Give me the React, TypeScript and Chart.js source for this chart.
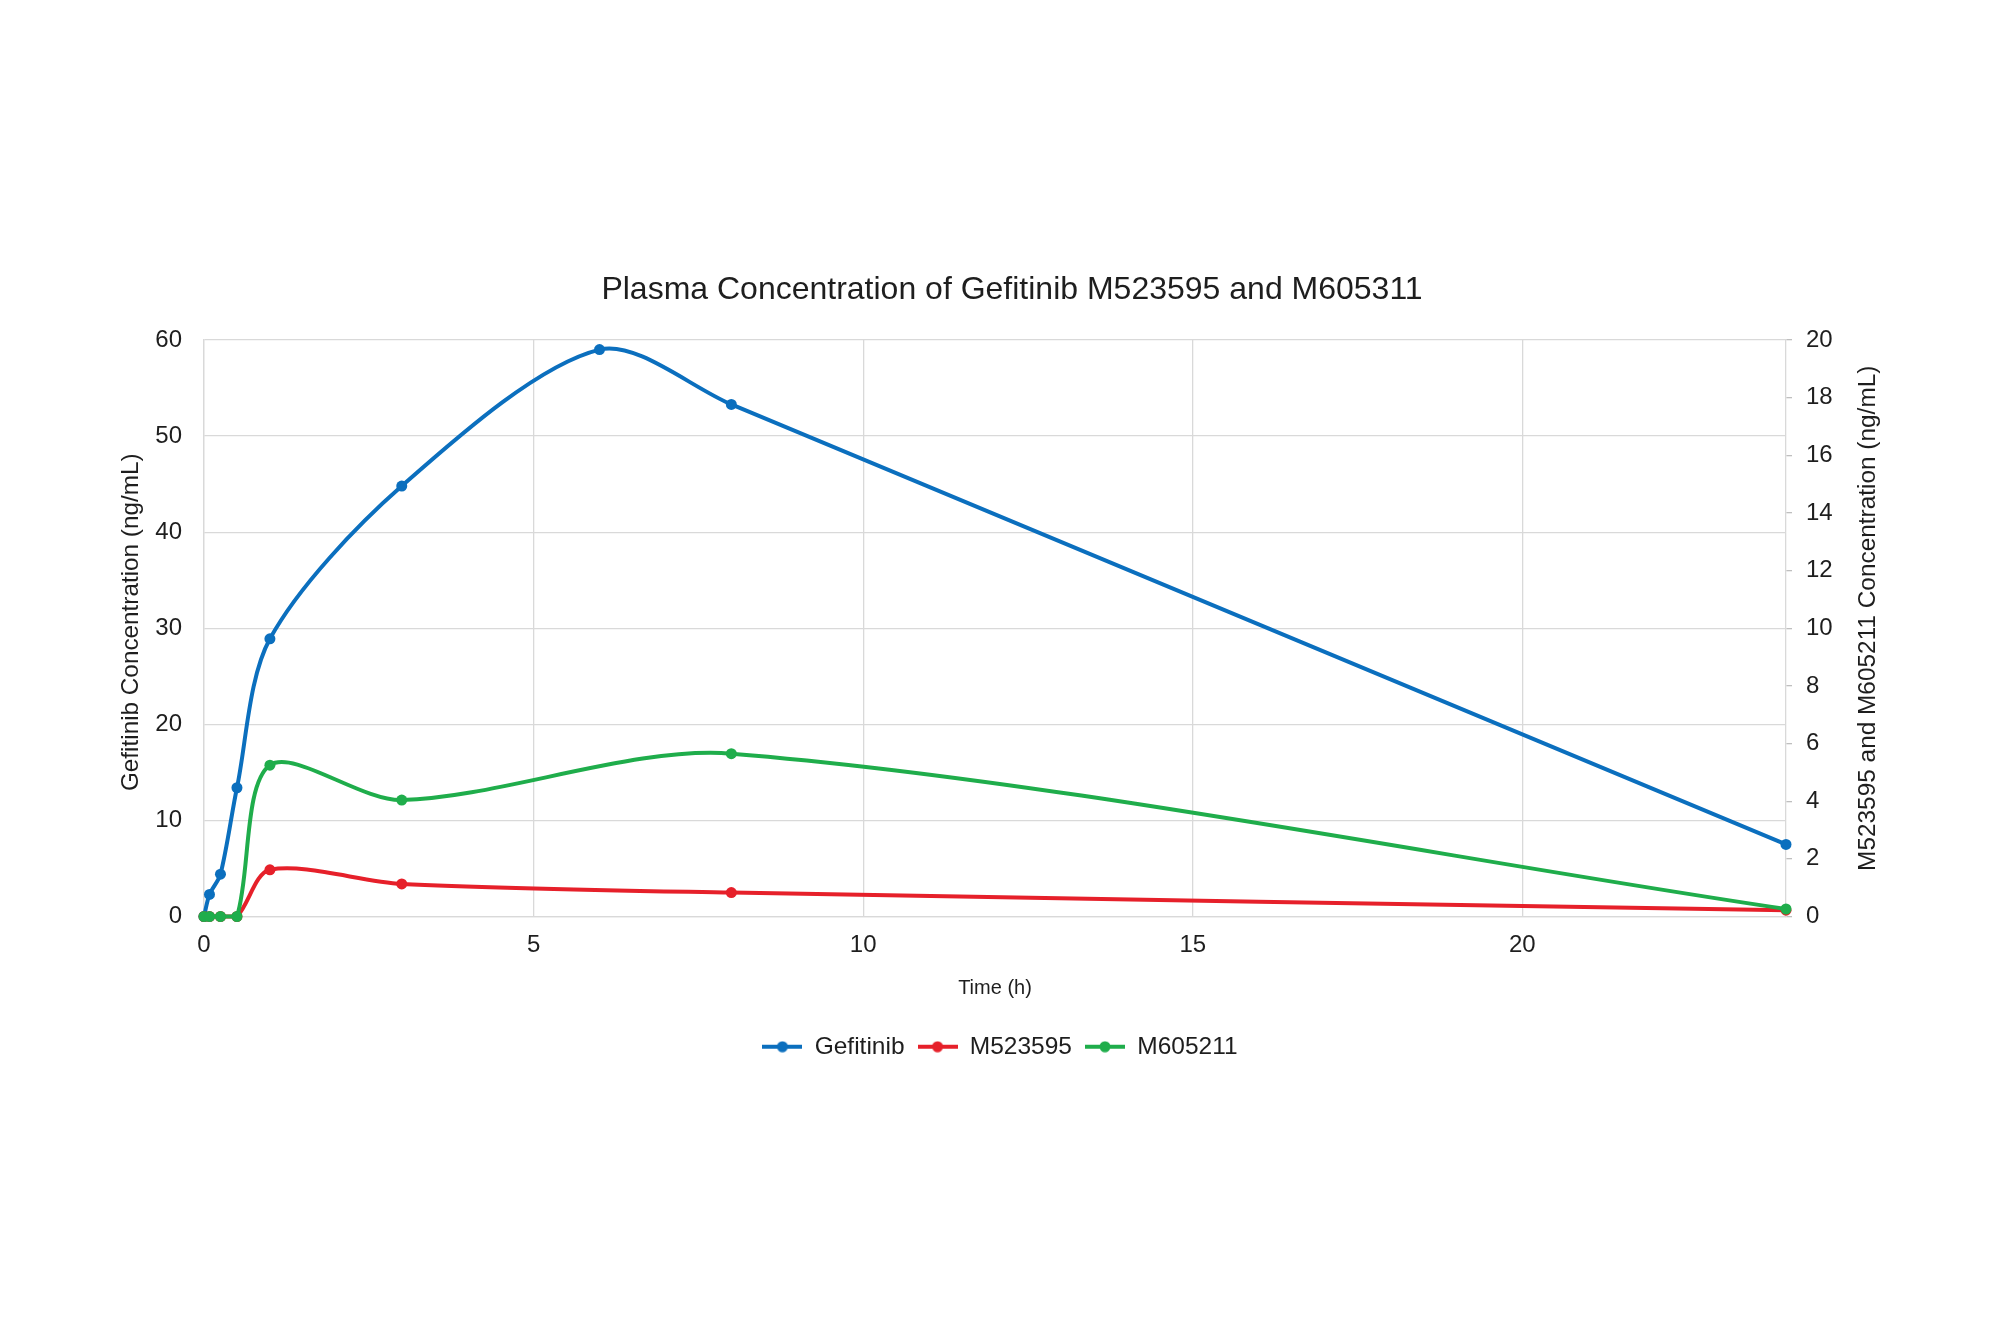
import React, { useEffect, useRef } from "react";
import { Chart, registerables } from "chart.js";

Chart.register(...registerables);

const FONT = '"Liberation Sans", Arial, sans-serif';
const TEXT = "#1e1e1e";
const GRID = "#d9d9d9";

const chartTitle = "Plasma Concentration of Gefitinib M523595 and M605311";
const xTitle = "Time (h)";
const leftTitle = "Gefitinib Concentration (ng/mL)";
const rightTitle = "M523595 and M605211 Concentration (ng/mL)";

const seriesNames = ["Gefitinib", "M523595", "M605211"];
const seriesColors = ["#0b6fbe", "#e6202a", "#1fad4b"];

const timeGefitinib = [0, 0.083, 0.25, 0.5, 1, 3, 6, 8, 24];
const gefitinib = [0, 2.3, 4.4, 13.4, 28.9, 44.8, 59.0, 53.3, 7.5];

const timeMetabolites = [0, 0.083, 0.25, 0.5, 1, 3, 8, 24];
const m523595 = [0, 0, 0, 0, 1.62, 1.13, 0.83, 0.22];
const m605211 = [0, 0, 0, 0, 5.25, 4.04, 5.65, 0.26];

const xMin = 0;
const xMax = 24;
const xStep = 5;
const leftMax = 60;
const leftStep = 10;
const rightMax = 20;
const rightStep = 2;

function toPoints(xs: number[], ys: number[]) {
  return xs.map((x, i) => ({ x, y: ys[i] }));
}

function makeMarker(color: string): HTMLCanvasElement {
  const c = document.createElement("canvas");
  c.width = 40;
  c.height = 12;
  const ctx = c.getContext("2d")!;
  ctx.strokeStyle = color;
  ctx.lineWidth = 4;
  ctx.beginPath();
  ctx.moveTo(0, 6);
  ctx.lineTo(40, 6);
  ctx.stroke();
  ctx.fillStyle = color;
  ctx.beginPath();
  ctx.arc(20, 6, 5.5, 0, Math.PI * 2);
  ctx.fill();
  return c;
}

function drawText(ctx: any, text: string, size: number, x: number, y: number, rot: number) {
  ctx.save();
  ctx.font = `${size}px ${FONT}`;
  ctx.fillStyle = TEXT;
  ctx.textAlign = "center";
  ctx.textBaseline = "middle";
  ctx.translate(x, y);
  ctx.rotate(rot);
  ctx.fillText(text, 0, 0);
  ctx.restore();
}

const titlesPlugin = {
  id: "titles",
  afterDraw(chart: any) {
    const { ctx, chartArea } = chart;
    const midY = (chartArea.top + chartArea.bottom) / 2;
    drawText(ctx, chartTitle, 32, 1012, 290.5, 0);
    drawText(ctx, leftTitle, 24.3, 131, midY - 6, -Math.PI / 2);
    drawText(ctx, rightTitle, 24.4, 1868, midY - 10, -Math.PI / 2);
  },
};

export default function App() {
  const ref = useRef<HTMLCanvasElement | null>(null);

  useEffect(() => {
    if (!ref.current) return;
    const markers = seriesColors.map(makeMarker);
    const common = {
      fill: false,
      tension: 0.3,
      borderWidth: 4,
      pointRadius: 5.5,
      pointBorderWidth: 0,
      pointHoverRadius: 5.5,
      clip: false as const,
    };
    const chart = new Chart(ref.current, {
      type: "line",
      data: {
        datasets: [
          {
            ...common,
            label: seriesNames[0],
            data: toPoints(timeGefitinib, gefitinib),
            borderColor: seriesColors[0],
            backgroundColor: seriesColors[0],
            pointBackgroundColor: seriesColors[0],
            yAxisID: "y",
            order: 2,
          },
          {
            ...common,
            label: seriesNames[1],
            data: toPoints(timeMetabolites, m523595),
            borderColor: seriesColors[1],
            backgroundColor: seriesColors[1],
            pointBackgroundColor: seriesColors[1],
            yAxisID: "y1",
            order: 1,
          },
          {
            ...common,
            label: seriesNames[2],
            data: toPoints(timeMetabolites, m605211),
            borderColor: seriesColors[2],
            backgroundColor: seriesColors[2],
            pointBackgroundColor: seriesColors[2],
            yAxisID: "y1",
            order: 0,
          },
        ],
      },
      options: {
        responsive: false,
        animation: false,
        devicePixelRatio: 1,
        events: [],
        layout: { padding: { top: 340, bottom: 264, left: 0, right: 0 } },
        scales: {
          x: {
            type: "linear",
            position: "bottom",
            min: xMin,
            max: xMax,
            ticks: {
              stepSize: xStep,
              includeBounds: false,
              padding: 14.5,
              color: TEXT,
              font: { family: FONT, size: 24 },
              maxRotation: 0,
            },
            grid: { color: GRID, lineWidth: 1.3, drawTicks: false },
            border: { color: GRID, width: 1.3 },
            title: {
              display: true,
              text: xTitle,
              color: TEXT,
              font: { family: FONT, size: 20 },
              padding: { top: 0, bottom: 21.5 },
            },
            afterFit: (s: any) => {
              s.height = 105;
            },
          },
          y: {
            type: "linear",
            position: "left",
            min: 0,
            max: leftMax,
            ticks: {
              stepSize: leftStep,
              padding: 22,
              color: TEXT,
              font: { family: FONT, size: 24 },
            },
            grid: { color: GRID, lineWidth: 1.3, drawTicks: false },
            border: { color: GRID, width: 1.3 },
            title: { display: false },
            afterFit: (s: any) => {
              s.width = 204;
            },
          },
          y1: {
            type: "linear",
            position: "right",
            min: 0,
            max: rightMax,
            ticks: {
              stepSize: rightStep,
              padding: 14,
              color: TEXT,
              font: { family: FONT, size: 24 },
            },
            grid: {
              color: "#bfbfbf",
              lineWidth: 1.3,
              drawOnChartArea: false,
              drawTicks: true,
              tickLength: 6,
            },
            border: { color: GRID, width: 1.3 },
            title: { display: false },
            afterFit: (s: any) => {
              s.width = 214;
            },
          },
        },
        plugins: {
          title: { display: false },
          legend: {
            position: "bottom",
            labels: {
              usePointStyle: true,
              pointStyleWidth: 40,
              padding: 13,
              color: TEXT,
              font: { family: FONT, size: 24.5 },
              generateLabels: (c: any) =>
                c.data.datasets.map((ds: any, i: number) => ({
                  text: ds.label,
                  pointStyle: markers[i],
                  fillStyle: ds.borderColor,
                  strokeStyle: ds.borderColor,
                  lineWidth: 0,
                  hidden: false,
                  datasetIndex: i,
                  fontColor: TEXT,
                })),
            },
          },
          tooltip: { enabled: false },
        },
      },
      plugins: [titlesPlugin],
    } as any);
    return () => chart.destroy();
  }, []);

  return (
    <div style={{ position: "absolute", left: 0, top: 0, width: 2000, height: 1333, background: "#fff" }}>
      <canvas ref={ref} width={2000} height={1333} />
    </div>
  );
}
